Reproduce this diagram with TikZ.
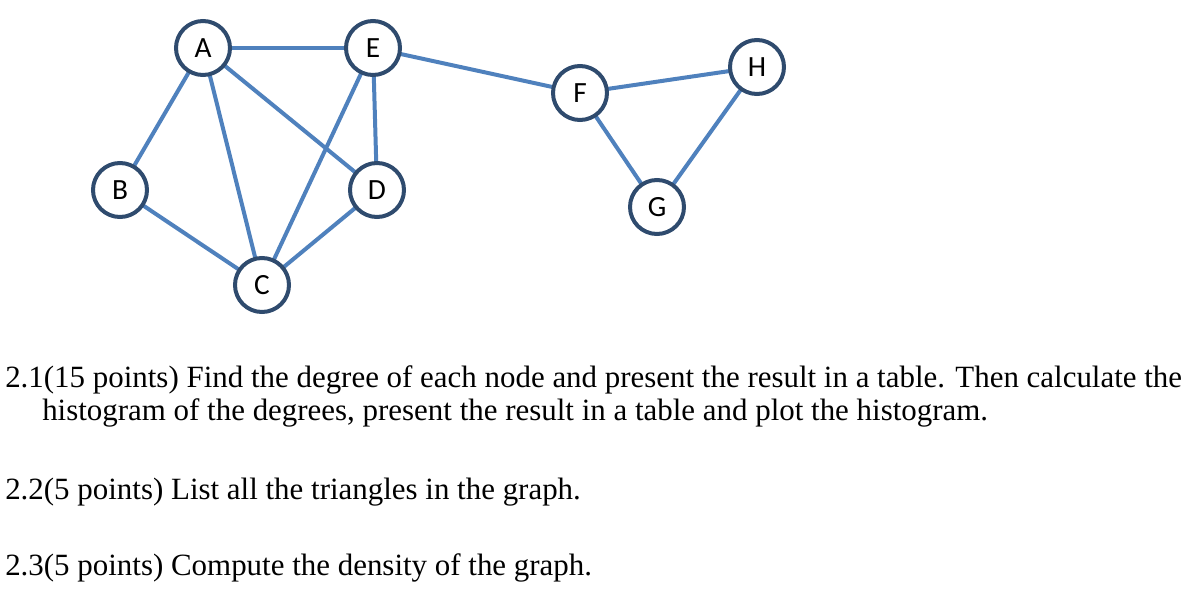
\documentclass[tikz,border=0pt]{standalone}
\usepackage{fontspec}
\setmainfont{Liberation Serif}
\newfontfamily\nodefont{Carlito}
\definecolor{edgeblue}{HTML}{4F81BD}
\definecolor{ringblue}{HTML}{2F4B6E}
\begin{document}
\begin{tikzpicture}[x=0.75pt,y=-0.75pt,
  vert/.style={circle,draw=ringblue,line width=3pt,fill=white,minimum size=54*0.75pt,inner sep=0pt,font=\nodefont\fontsize{22}{22}\selectfont},
  edge/.style={draw=edgeblue,line width=3pt},
  txt/.style={anchor=west,inner sep=0pt,font=\fontsize{23.2}{26}\selectfont}]
\useasboundingbox (0,0) rectangle (1202,602);
\coordinate (pA) at (203,48);
\coordinate (pE) at (373,48);
\coordinate (pF) at (580,93);
\coordinate (pH) at (757,67);
\coordinate (pB) at (120,190);
\coordinate (pD) at (377,190);
\coordinate (pG) at (657,207);
\coordinate (pC) at (262,285);
\foreach \u/\v in {A/E,A/B,A/C,A/D,E/C,E/D,E/F,B/C,D/C,F/H,F/G,G/H}
  \draw[edge] (p\u) -- (p\v);
\foreach \n in {A,E,F,H,B,D,G,C}
  \node[vert] (\n) at (p\n) {\n};
\node[txt] (t1) at (5,380) {2.1(15 points) Find the degree of each node and present the result in a table. Then calculate the};
\node[txt] (t2) at (42,413) {histogram of the degrees, present the result in a table and plot the histogram.};
\node[txt] (t3) at (5,492) {2.2(5 points) List all the triangles in the graph.};
\node[txt] (t4) at (5,568) {2.3(5 points) Compute the density of the graph.};
\end{tikzpicture}
\end{document}
